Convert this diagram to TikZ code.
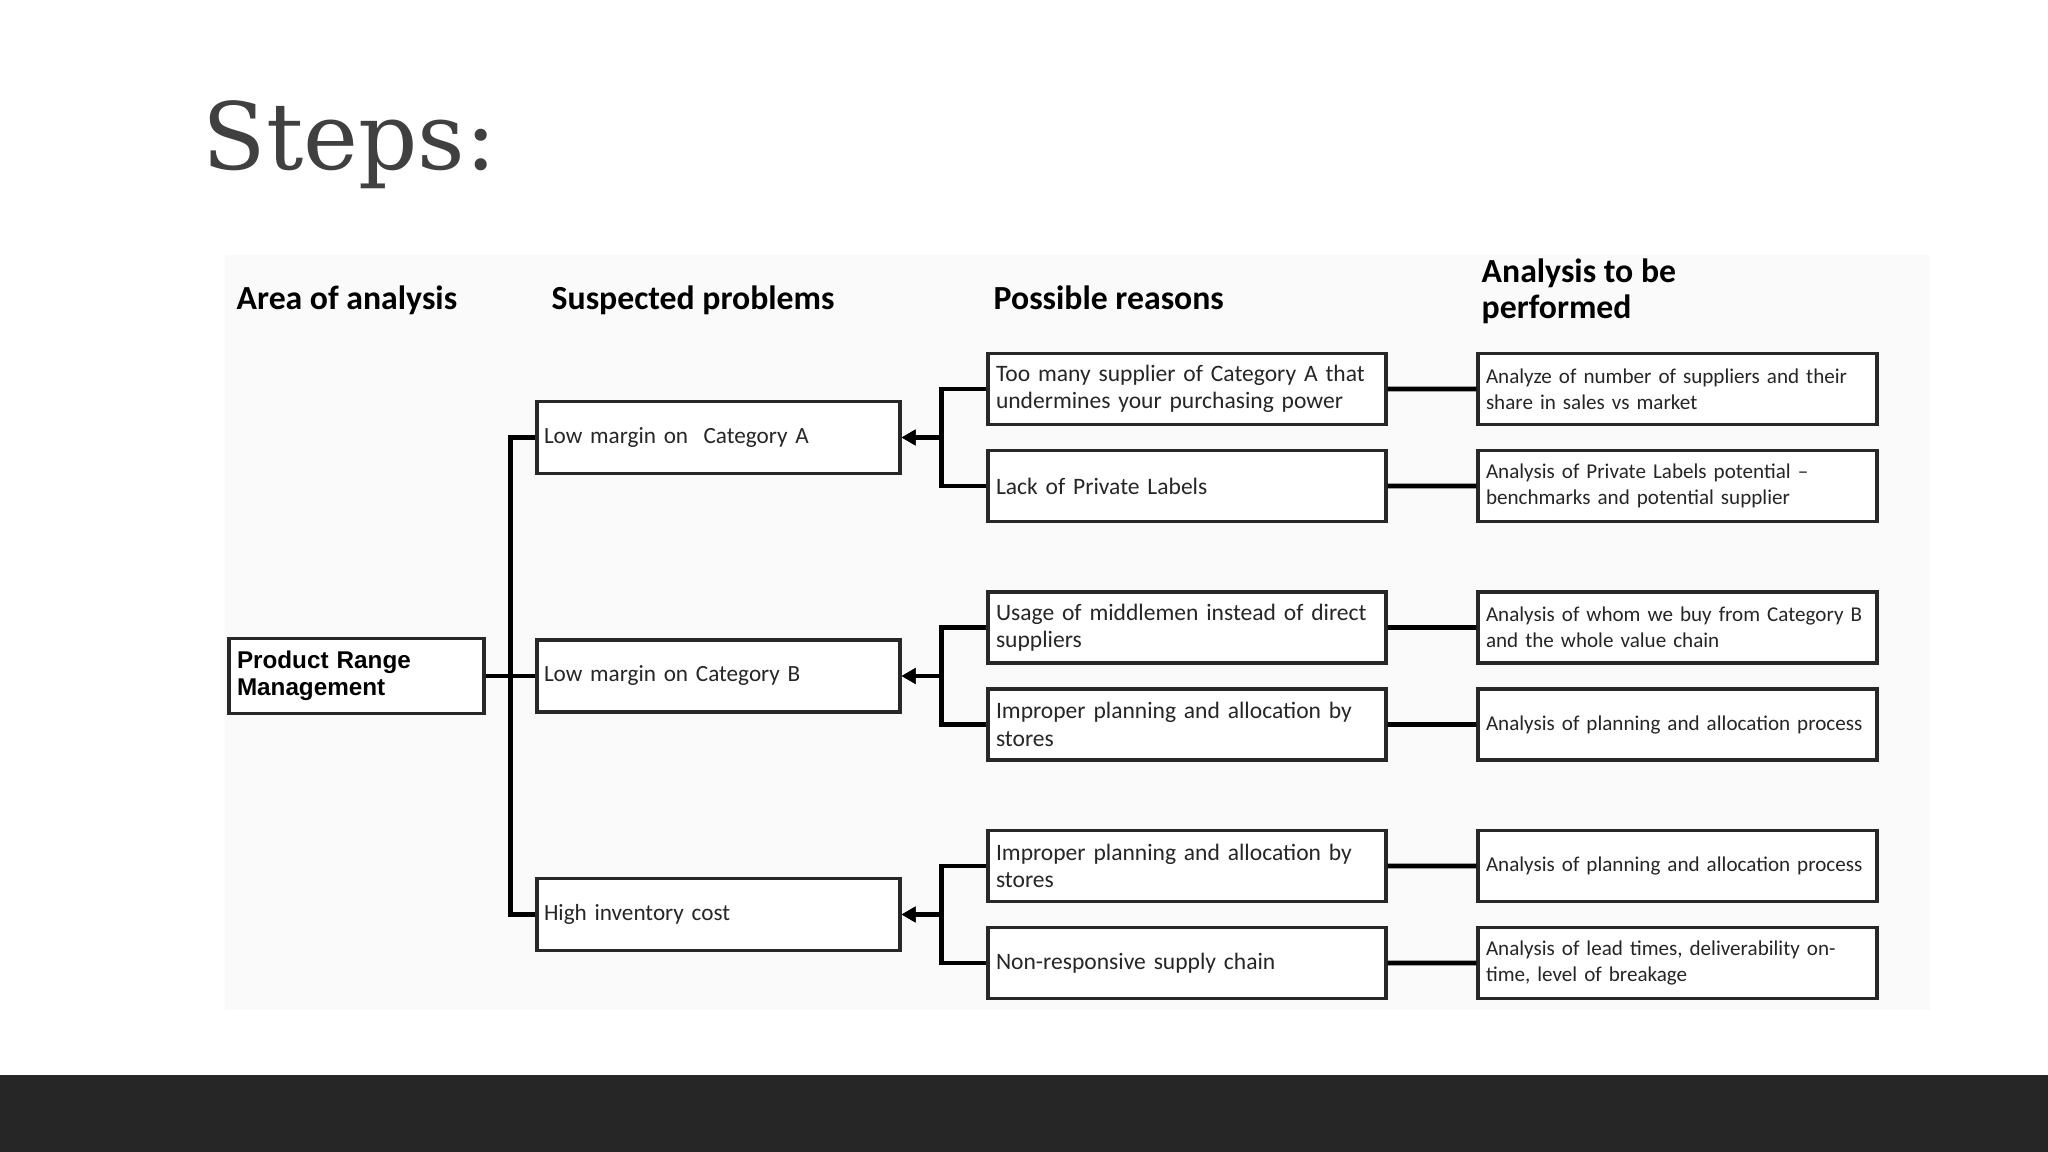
\documentclass[tikz,border=0pt]{standalone}
\usepackage{fontspec}
\setmainfont{Carlito}
\newfontfamily\arialfont{Liberation Sans}
\newfontfamily\titlefont{DejaVu Serif}
\usetikzlibrary{arrows.meta}
\definecolor{slidegray}{RGB}{64,64,64}
\definecolor{bardark}{RGB}{38,38,38}
\definecolor{panelgray}{RGB}{250,250,251}
\definecolor{boxline}{RGB}{40,40,40}
\tikzset{
  box/.style={draw=boxline, line width=0.9pt, fill=white, rectangle, align=left,
    inner xsep=0.08cm, inner ysep=0pt, text=black!85},
  rootbox/.style={box, text width=2.39cm, minimum height=0.75cm,
    font=\arialfont\bfseries\fontsize{6.9}{7.8}\selectfont, text=black},
  probbox/.style={box, text width=3.49cm, inner xsep=0.07cm, minimum height=0.72cm,
    font=\fontsize{6.6}{7.8}\selectfont},
  reasonbox/.style={box, text width=3.82cm, minimum height=0.71cm,
    font=\fontsize{6.7}{7.8}\selectfont},
  anabox/.style={box, text width=3.83cm, minimum height=0.71cm,
    font=\fontsize{6.0}{7.3}\selectfont},
  head/.style={inner sep=0pt, align=left, font=\bfseries\fontsize{9.6}{10.4}\selectfont}
}
\begin{document}
\begin{tikzpicture}[grow'=right,
  edge from parent/.style={draw, line width=1.4pt},
  level 1/.style={level distance=3.62cm, sibling distance=2.385cm,
    edge from parent path={(\tikzparentnode.east) -- ++(0.25,0) |- (\tikzchildnode.west)}},
  level 2/.style={level distance=4.685cm, sibling distance=0.97cm,
    edge from parent/.style={draw, line width=1.4pt, -{Triangle[length=1.4mm,width=1.5mm]}},
    edge from parent path={(\tikzchildnode.west) -- ++(-0.45,0) |- (\tikzparentnode.east)}},
  level 3/.style={level distance=4.905cm,
    edge from parent/.style={draw, line width=1.4pt},
    edge from parent path={(\tikzparentnode.east) -- (\tikzchildnode.west)}}]
\useasboundingbox (0,0) rectangle (20.48,-11.52);
\fill[white] (0,0) rectangle (20.48,-11.52);
\fill[panelgray] (2.25,-2.55) rectangle (19.3,-10.1);
\fill[bardark] (0,-10.75) rectangle (20.48,-11.52);
% title and column heads
\node[anchor=base west, inner sep=0pt, text=slidegray, font=\titlefont\fontsize{26.4}{30}\selectfont] (steps) at (2.02,-1.70) {Steps:};
\node[head, anchor=base west] (harea) at (2.36,-3.10) {Area of analysis};
\node[head, anchor=base west] (hprob) at (5.51,-3.10) {Suspected problems};
\node[head, anchor=base west] (hreason) at (9.93,-3.10) {Possible reasons};
\node[head, anchor=base west] (hana) at (14.81,-3.19) {Analysis to be\\performed};
% the tree
\node[rootbox] (prm) at (3.565,-6.76) {Product Range\\Management}
  child {node[probbox] (lowA) {Low margin on~ Category A}
    child {node[reasonbox] (toomany) {Too many supplier of Category A that\\undermines your purchasing power}
      child {node[anabox] (nsupp) {Analyze of number of suppliers and their\\share in sales vs market}}}
    child {node[reasonbox] (privlab) {Lack of Private Labels}
      child {node[anabox] (privpot) {Analysis of Private Labels potential --\\benchmarks and potential supplier}}}
  }
  child {node[probbox] (lowB) {Low margin on Category B}
    child {node[reasonbox] (middle) {Usage of middlemen instead of direct\\suppliers}
      child {node[anabox] (whom) {Analysis of whom we buy from Category B\\and the whole value chain}}}
    child {node[reasonbox] (planB) {Improper planning and allocation by\\stores}
      child {node[anabox] (procB) {Analysis of planning and allocation process}}}
  }
  child {node[probbox] (inv) {High inventory cost}
    child {node[reasonbox] (planC) {Improper planning and allocation by\\stores}
      child {node[anabox] (procC) {Analysis of planning and allocation process}}}
    child {node[reasonbox] (supply) {Non-responsive supply chain}
      child {node[anabox] (lead) {Analysis of lead times, deliverability on-\\time, level of breakage}}}
  };
\end{tikzpicture}
\end{document}
